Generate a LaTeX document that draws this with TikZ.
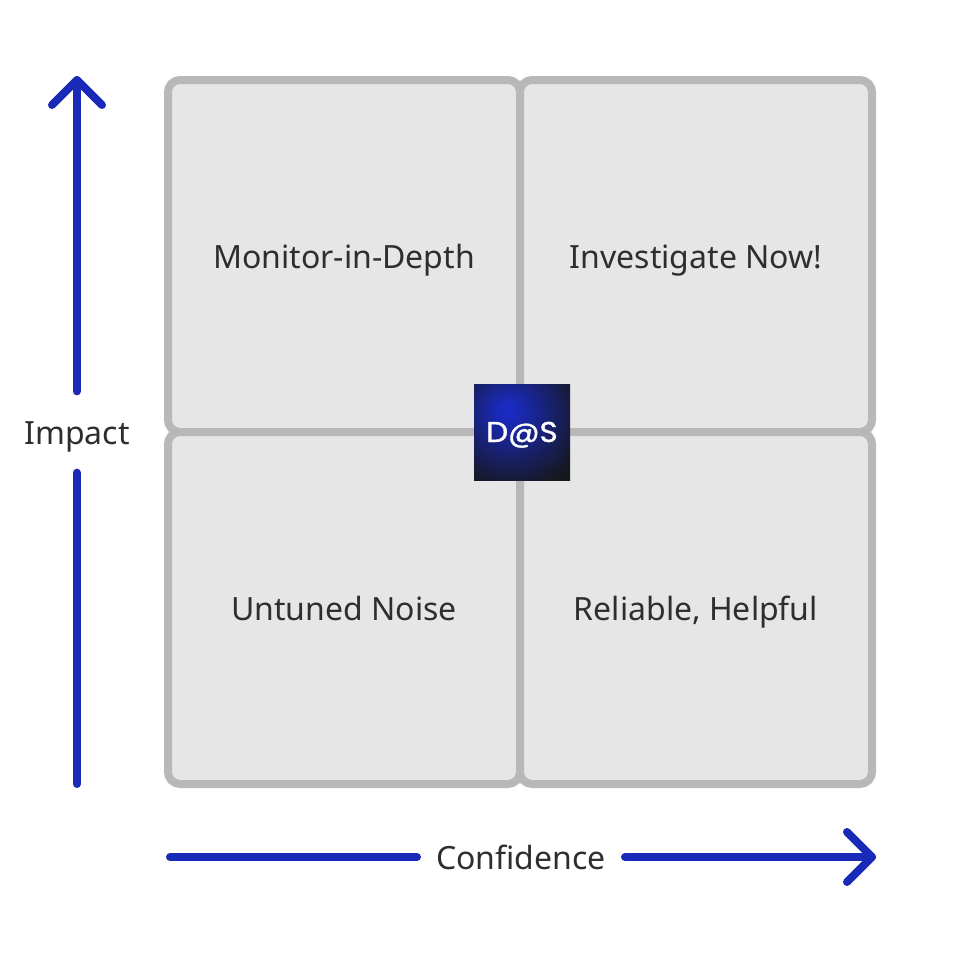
\documentclass[tikz,border=0pt]{standalone}
\usepackage{fontspec}
\setmainfont{Noto Sans}
\newfontfamily\logofont[FakeBold=1.2,FakeStretch=1.08]{Poppins}
\definecolor{cellfill}{RGB}{230,230,230}
\definecolor{celledge}{RGB}{184,184,184}
\definecolor{axisblue}{RGB}{26,42,184}
\definecolor{labelgrey}{RGB}{46,46,46}
\definecolor{logoblue}{RGB}{26,42,190}
\definecolor{logodark}{RGB}{22,24,32}
\pgfdeclareradialshading{logoglow}{\pgfpoint{-8bp}{12bp}}{color(0bp)=(logoblue); color(4bp)=(logoblue); color(38bp)=(logodark); color(100bp)=(logodark)}
\tikzset{
  every picture/.style={line width=0.75pt},
  cell/.style={draw=celledge,fill=cellfill,line width=6pt,rounded corners=9pt,minimum width=264pt,minimum height=264pt,inner sep=0pt,text=labelgrey,font=\fontsize{24}{29}\selectfont,text height=22pt,text depth=3pt},
  axislabel/.style={text=labelgrey,font=\fontsize{24}{29}\selectfont,inner sep=0pt,outer sep=0pt,text height=22pt,text depth=3pt},
  axisline/.style={draw=axisblue,line width=6pt,line cap=round,line join=round},
  logobox/.style={shading=logoglow,minimum width=72pt,minimum height=72pt,inner sep=0pt,text=white,font=\logofont\fontsize{21.5}{25}\selectfont,text height=18pt,text depth=3pt}
}
\begin{document}
\begin{tikzpicture}[x=0.75pt,y=0.75pt,yscale=-1,xscale=1]
\useasboundingbox (0,0) rectangle (958,958);

%Quadrants
\node [cell] (monitor) at (344,256) {Monitor-in-Depth};
\node [cell] (investigate) at (696,256) {Investigate Now!};
\node [cell] (untuned) at (344,608) {Untuned Noise};
\node [cell] (reliable) at (696,608) {Reliable, Helpful};

%Logo
\node [logobox] (logo) at (522,432) {D@S};

%Impact axis
\node [axislabel,minimum height=61pt] (impact) at (77,432) {Impact};
\coordinate (impacthead) at (77,80);
\coordinate (impactfoot) at (77,784);
\draw [axisline] (impact) -- (impacthead);
\draw [axisline] (impact) -- (impactfoot);
\draw [axisline] (impacthead) ++(-25,25) -- (impacthead) -- ++(25,25);

%Confidence axis
\node [axislabel,minimum width=156pt] (confidence) at (521,857) {Confidence};
\coordinate (confidencefoot) at (170,857);
\coordinate (confidencehead) at (872,857);
\draw [axisline] (confidence) -- (confidencefoot);
\draw [axisline] (confidence) -- (confidencehead);
\draw [axisline] (confidencehead) ++(-25,-25) -- (confidencehead) -- ++(-25,25);
\end{tikzpicture}
\end{document}
